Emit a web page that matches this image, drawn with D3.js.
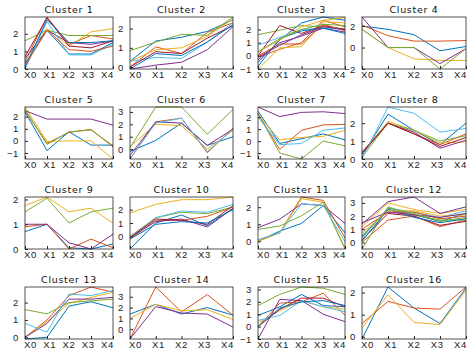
<!DOCTYPE html>
<html>
<head>
<meta charset="utf-8">
<script src="https://cdn.jsdelivr.net/npm/d3@7"></script>
<style>
  body { margin: 0; background: #fff; }
  svg { display: block; font-family: "DejaVu Sans", sans-serif; }
  .tick-label { font-size: 9.5px; fill: #222; letter-spacing: 0.6px; }
  .title { font-size: 9.5px; fill: #111; letter-spacing: 0.7px; }
</style>
</head>
<body>
<div id="chart"></div>
<script>
var width = 474,
    height = 350;

var categories = ["X0", "X1", "X2", "X3", "X4"];

// one array of lines per cluster, values at X0..X4
var c1 = [
  [0.3, 2.2, 0.85, 0.85, 1.5],
  [0.4, 2.95, 1.4, 1.9, 1.7],
  [0.5, 2.3, 1.3, 2.1, 2.3],
  [0.6, 2.2, 1.5, 1.4, 1.6],
  [1.6, 2.2, 1.9, 1.9, 1.9],
  [0.0, 2.7, 0.8, 0.8, 1.4],
  [0.7, 2.9, 1.3, 1.2, 1.6],
  [0.1, 2.8, 1.5, 1.5, 1.6],
  [0.2, 2.2, 1.1, 1.0, 1.3]
];
var c2 = [
  [0.3, 1.35, 1.55, 1.85, 2.45],
  [0.0, 1.05, 0.7, 1.8, 2.3],
  [0.3, 0.9, 1.0, 1.6, 2.5],
  [-0.1, 0.1, 0.25, 0.9, 2.1],
  [0.85, 1.3, 1.7, 1.65, 2.6],
  [0.3, 0.5, 0.45, 1.3, 2.3],
  [0.0, 0.8, 0.7, 1.5, 2.15],
  [-0.1, 0.7, 0.6, 1.3, 2.2]
];
var c3 = [
  [-0.5, 1.2, 2.5, 2.95, 2.7],
  [-0.1, 0.5, 1.0, 2.7, 2.2],
  [-1.0, 0.6, 0.7, 2.6, 2.5],
  [-0.3, 1.0, 1.5, 2.1, 1.8],
  [1.6, 1.95, 2.3, 2.2, 2.05],
  [0.8, 1.4, 2.0, 2.1, 2.0],
  [0.0, 2.3, 1.7, 2.3, 2.0],
  [-0.8, 1.3, 1.9, 2.1, 1.7],
  [0.0, 0.9, 0.9, 2.4, 1.9],
  [0.3, 1.2, 2.2, 2.7, 2.9],
  [-0.1, 0.8, 1.6, 2.2, 2.0],
  [0.3, 1.3, 2.0, 2.4, 2.3]
];
var c4 = [
  [2.0, 1.7, 1.2, -0.3, 0.1],
  [2.1, 1.1, 0.6, 0.6, 0.65],
  [1.7, 0.0, -1.05, -1.2, -1.2],
  [2.85, 0.0, 0.0, -1.5, -0.1],
  [1.7, 0.0, 0.0, -2.0, -0.1]
];
var c5 = [
  [2.4, -0.8, 0.75, -0.35, -0.35],
  [2.5, -0.2, 0.7, 0.95, -0.5],
  [2.8, -0.05, 0.0, 0.0, -1.5],
  [2.5, 1.8, 1.8, 1.8, 1.3],
  [2.6, -0.3, 0.75, 0.9, -0.4]
];
var c6 = [
  [-0.2, 0.7, 2.1, 0.3, 1.0],
  [-0.8, 2.2, 2.5, -0.3, 1.7],
  [0.2, 2.0, 1.9, 0.0, 1.5],
  [-0.5, 2.2, 2.1, 0.3, 1.6],
  [0.1, 3.4, 3.4, 1.2, 3.2],
  [-0.8, 2.1, 2.5, -0.2, 1.6]
];
var c7 = [
  [2.5, -0.2, 0.2, 0.6, 0.1],
  [2.3, -0.7, 0.9, 1.35, 1.4],
  [2.2, 0.1, 0.3, 0.4, 0.9],
  [2.85, 2.05, 2.4, 2.45, 2.3],
  [2.3, -1.0, -1.5, 0.0, -0.4],
  [2.0, -0.3, -0.2, 0.9, 1.1]
];
var c8 = [
  [0.2, 2.5, 1.6, 0.8, 2.0],
  [0.4, 2.0, 1.4, 0.8, 1.4],
  [0.3, 2.1, 1.6, 0.9, 0.95],
  [0.35, 2.0, 1.5, 0.6, 1.05],
  [0.1, 2.0, 1.6, 1.0, 1.3],
  [0.0, 2.9, 2.55, 1.5, 1.7],
  [0.3, 2.0, 1.4, 0.7, 1.2]
];
var c9 = [
  [0.7, 1.0, 0.05, 0.0, 0.2],
  [0.9, 1.0, 0.0, 0.4, 0.05],
  [1.75, 2.1, 1.5, 1.65, 1.05],
  [1.0, 1.0, 0.25, 0.0, 0.6],
  [1.5, 2.05, 1.05, 1.5, 1.65]
];
var c10 = [
  [-0.95, 1.0, 1.6, 0.8, 2.1],
  [-0.2, 1.2, 1.2, 1.5, 2.2],
  [1.75, 2.4, 2.75, 2.75, 2.95],
  [-0.1, 1.1, 1.3, 0.7, 2.1],
  [0.0, 1.4, 1.8, 1.7, 2.2],
  [-0.1, 1.4, 1.9, 1.8, 2.4],
  [-0.1, 1.3, 1.2, 0.9, 2.3],
  [-0.2, 0.9, 1.1, 1.0, 2.0]
];
var c11 = [
  [0.0, 0.6, 1.05, 2.1, 0.5],
  [0.0, 0.5, 2.6, 2.4, 0.2],
  [0.0, 0.5, 2.5, 2.3, -0.4],
  [0.8, 1.3, 2.2, 2.1, 1.05],
  [0.7, 0.9, 1.5, 2.3, -0.45],
  [0.1, 0.5, 2.2, 2.1, 0.0]
];
var c12 = [
  [0.5, 2.5, 2.1, 1.6, 2.2],
  [0.0, 1.7, 2.0, 1.2, 1.7],
  [1.2, 3.0, 2.5, 2.2, 2.5],
  [1.4, 3.1, 3.45, 2.2, 2.7],
  [-0.5, 2.7, 2.1, 1.7, 1.7],
  [0.3, 2.6, 2.3, 1.9, 2.4],
  [0.2, 2.2, 2.0, 1.3, 1.6],
  [0.1, 2.5, 1.9, 1.5, 1.8],
  [1.0, 2.3, 2.3, 1.8, 2.0],
  [0.7, 2.4, 2.4, 2.0, 2.1],
  [1.5, 2.3, 2.1, 1.9, 2.2],
  [0.4, 2.6, 2.2, 1.6, 1.9]
];
var c13 = [
  [-0.1, 0.0, 1.8, 2.05, 1.7],
  [0.0, 1.0, 2.4, 2.9, 2.6],
  [0.0, 0.9, 1.95, 2.3, 2.6],
  [0.0, 0.8, 2.2, 2.2, 2.3],
  [1.6, 1.35, 2.0, 2.1, 2.2],
  [0.8, 0.3, 2.5, 2.4, 2.7]
];
var c14 = [
  [1.4, 2.3, 1.4, 2.0, 1.3],
  [-0.9, 3.9, 1.6, 3.2, 1.3],
  [1.0, 2.3, 1.7, 1.8, 0.9],
  [-0.9, 2.1, 1.5, 1.4, 0.2]
];
var c15 = [
  [0.9, 1.6, 2.6, 1.7, 1.6],
  [0.0, 1.9, 2.0, 2.7, 0.9],
  [0.3, 1.3, 2.1, 1.6, 1.4],
  [-1.0, 2.2, 2.1, 1.0, 0.4],
  [1.7, 2.6, 3.2, 3.1, 2.6],
  [0.5, 0.9, 2.1, 1.6, 1.2],
  [0.0, 1.4, 2.3, 2.3, 1.6],
  [0.0, 1.5, 2.0, 2.1, 1.7]
];
var c16 = [
  [-0.1, 2.25, 1.3, 0.6, 2.2],
  [0.6, 1.6, 1.3, 1.25, 2.25],
  [0.4, 1.9, 0.65, 0.55, 2.1]
];

var clusters = [c1, c2, c3, c4, c5, c6, c7, c8, c9, c10, c11, c12, c13, c14, c15, c16];

// y tick step of each cluster
var tickSteps = [1, 1, 1, 2, 1, 1, 1, 1, 1, 1, 1, 1, 1, 1, 1, 1];

var colors = ["#0072BD", "#D95319", "#EDB120", "#7E2F8E", "#77AC30", "#4DBEEE", "#A2142F"];

// subplot layout
var colLeft = [25, 130, 258, 362],
    colWidth = [88, 103, 87, 104],
    rowTop = [17, 107, 197, 287],
    plotH = 52;

var svg = d3.select("#chart").append("svg")
  .attr("width", width)
  .attr("height", height);

function styleAxis(s) {
  s.select(".domain").remove();
  s.selectAll("line").attr("stroke", "#262626");
  s.selectAll("text").attr("class", "tick-label").attr("font-size", null).attr("font-family", null);
}

clusters.forEach(function(lines, i) {
  var row = Math.floor(i / 4), col = i % 4;
  var w = colWidth[col];

  var g = svg.append("g")
    .attr("transform", "translate(" + colLeft[col] + "," + rowTop[row] + ")");

  var x = d3.scalePoint()
    .domain(categories)
    .range([0, w]);

  // tick labels sit a little inside the end ticks
  var xLabel = d3.scalePoint()
    .domain(categories)
    .range([5, w - 6]);

  // axis tight to the data
  var ext = d3.extent(d3.merge(lines));
  var y = d3.scaleLinear()
    .domain(ext)
    .range([plotH, 0]);

  var step = tickSteps[i];
  var yTicks = d3.range(Math.ceil(ext[0] / step) * step, ext[1] + 1e-9, step);

  var line = d3.line()
    .x(function(d, j) { return x(categories[j]); })
    .y(function(d) { return y(d); });

  g.selectAll(".series")
    .data(lines)
    .enter().append("path")
      .attr("class", "series")
      .attr("d", line)
      .attr("fill", "none")
      .attr("stroke", function(d, j) { return colors[j % colors.length]; })
      .attr("stroke-width", 1);

  g.append("rect")
    .attr("width", w)
    .attr("height", plotH)
    .attr("fill", "none")
    .attr("stroke", "#262626")
    .attr("stroke-width", 0.8);

  g.append("g")
    .attr("transform", "translate(0," + plotH + ")")
    .call(d3.axisBottom(x).tickSizeInner(-3).tickSizeOuter(0).tickFormat(""))
    .call(styleAxis);

  g.append("g")
    .attr("transform", "translate(0," + plotH + ")")
    .call(d3.axisBottom(xLabel).tickSize(0).tickPadding(2))
    .call(styleAxis);

  g.append("g")
    .call(d3.axisLeft(y).tickValues(yTicks).tickFormat(d3.format("d"))
      .tickSizeInner(-3).tickSizeOuter(0).tickPadding(6))
    .call(styleAxis);

  g.append("text")
    .attr("class", "title")
    .attr("x", w / 2)
    .attr("y", -4)
    .attr("text-anchor", "middle")
    .text("Cluster " + (i + 1));
});
</script>
</body>
</html>
